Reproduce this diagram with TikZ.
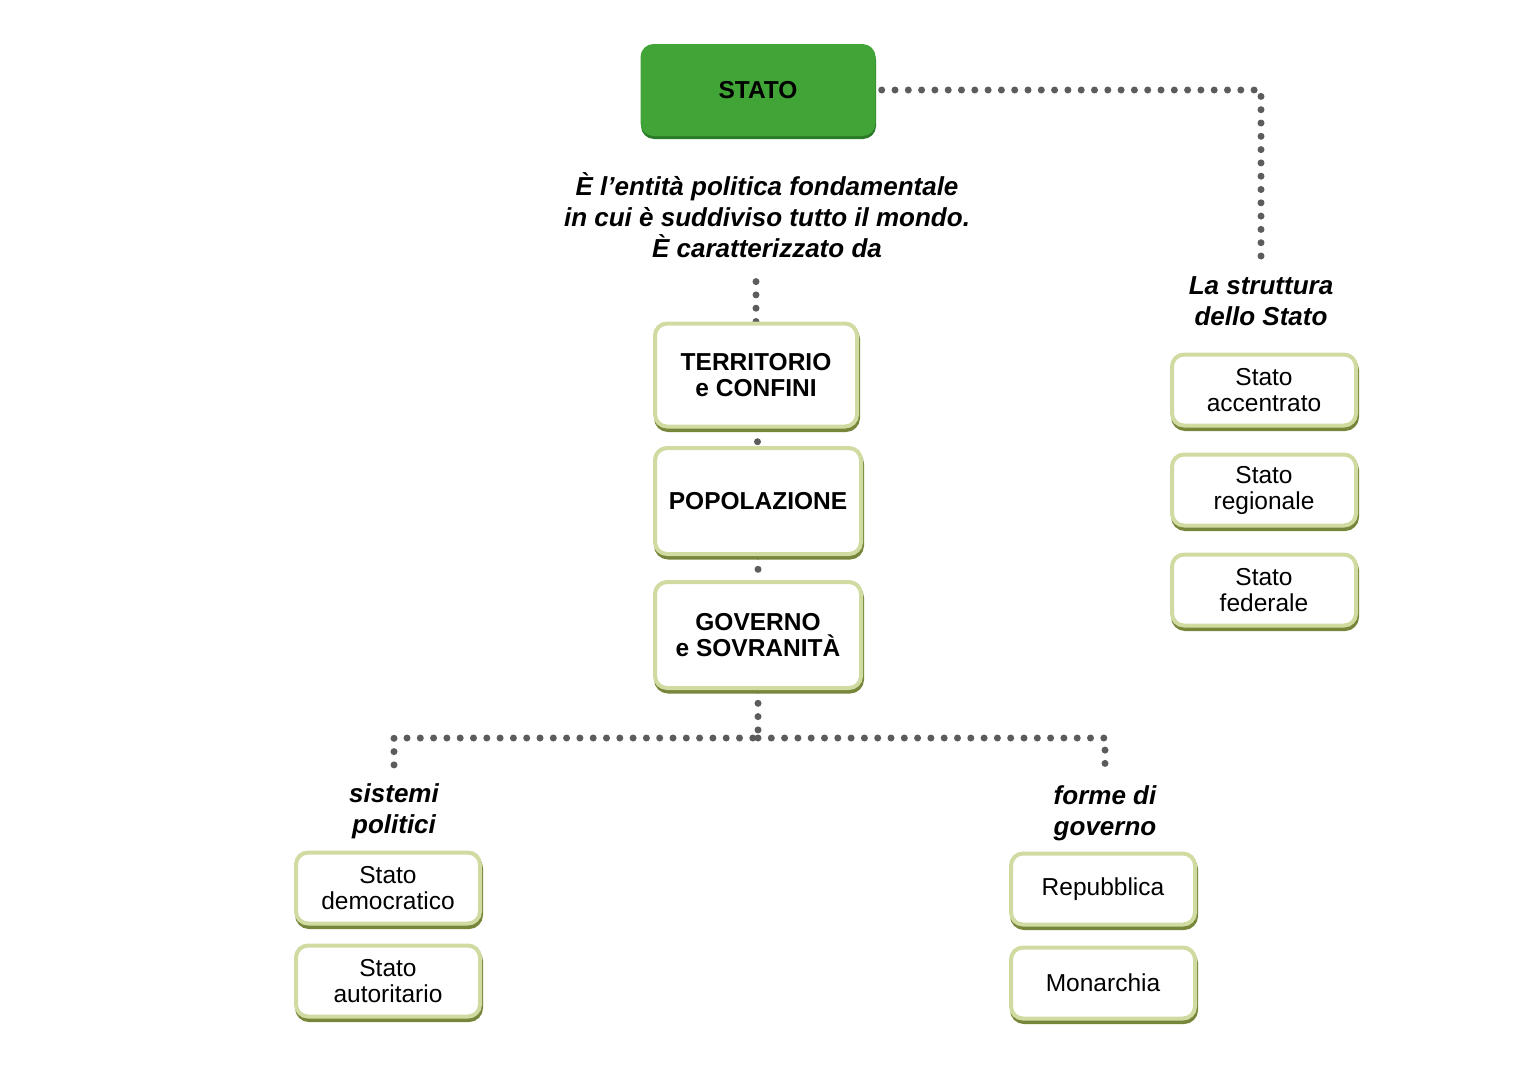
\documentclass[tikz,border=0pt]{standalone}
\usepackage{fontspec}
\setmainfont{Liberation Sans}
\usetikzlibrary{positioning, shadows, backgrounds}
\definecolor{statogreen}{HTML}{41A437}
\definecolor{statoshade}{HTML}{2B7A27}
\definecolor{rimgreen}{HTML}{D0DBA2}
\definecolor{rimshade}{HTML}{76863A}
\definecolor{dotgray}{HTML}{5C5C5C}

\begin{document}
\begin{tikzpicture}[x=1pt, y=-1pt,
    mainbox/.style={rectangle, rounded corners=13pt, fill=statogreen, minimum width=235pt, minimum height=92pt, font=\fontsize{24.5}{26}\selectfont\bfseries, general shadow={fill=statoshade, shadow xshift=0.5pt, shadow yshift=-3pt}},
    box/.style={rectangle, rounded corners=12pt, draw=rimgreen, line width=4pt, fill=white, align=center, font=\fontsize{24.5}{26}\selectfont\bfseries, general shadow={draw=rimshade, fill=rimshade, line width=4pt, shadow xshift=1pt, shadow yshift=-3.5pt}},
    smallbox/.style={box, minimum width=184pt, minimum height=71pt, font=\fontsize{24.5}{26}\selectfont},
    caption/.style={align=center, font=\fontsize{26}{31}\selectfont\bfseries\itshape},
    dots/.style={draw=dotgray, line width=7pt, line cap=round, dash pattern=on 0pt off 13.3pt}]
    \useasboundingbox (0,0) rectangle (1536,1069);

    % central column
    \node[mainbox] (stato) at (758,90) {STATO};
    \node[caption] (desc) at (767,215) {È l’entità politica fondamentale\\in cui è suddiviso tutto il mondo.\\È caratterizzato da};
    \node[box, minimum width=202pt, minimum height=103pt] (terr) at (756,375) {TERRITORIO\\e CONFINI};
    \node[box, minimum width=206pt, minimum height=106pt] (pop) at (758,501) {POPOLAZIONE};
    \node[box, minimum width=206pt, minimum height=106pt] (gov) at (758,635) {GOVERNO\\e SOVRANITÀ};

    % branch labels
    \node[caption] (strutt) at (1261,301) {La struttura\\dello Stato};
    \node[caption] (sist) at (394,811) {sistemi\\politici};
    \node[caption] (forme) at (1105,813) {forme di\\governo};

    \foreach \name/\x/\y/\txt in {acc/1264/390/{Stato\\accentrato}, reg/1264/490/{Stato\\regionale}, fed/1264/590/{Stato\\federale}, dem/388/888/{Stato\\democratico}, aut/388/981/{Stato\\autoritario}, rep/1103/889/Repubblica, mon/1103/983/Monarchia}
        \node[smallbox] (\name) at (\x,\y) {\txt};

    % dotted connectors
    \begin{scope}[on background layer]
        \draw[dots, shorten <=6pt, shorten >=6pt] (stato.east) -| (strutt.north);
        \draw[dots, shorten >=13pt] (terr.north) -- (terr.north |- desc.south);
        \draw[dots] (terr.south) -- (pop.north);
        \draw[dots] (pop.south) -- (gov.north);
        \coordinate (fork) at (758,738);
        \draw[dots, shorten >=12pt] (gov.south) -- (fork) -| (sist.north);
        \draw[dots, shorten >=12pt] (fork) -| (forme.north);
    \end{scope}
\end{tikzpicture}
\end{document}
